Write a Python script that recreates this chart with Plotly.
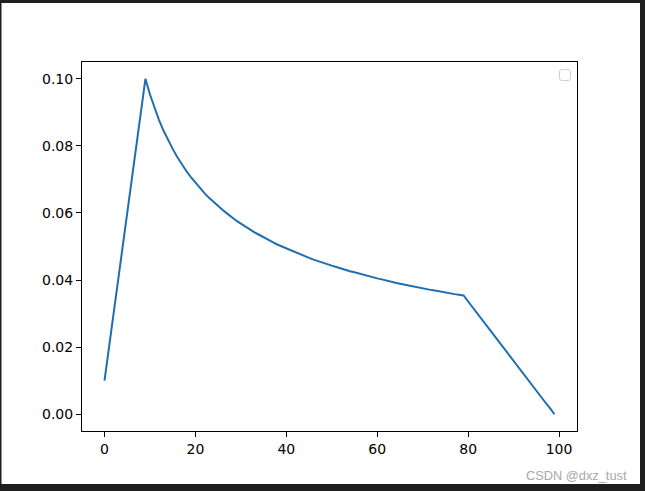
import plotly.graph_objects as go

epochs = list(range(100))
lr = [
    0.0100, 0.0200, 0.0300, 0.0400, 0.0500, 0.0600, 0.0700, 0.0800, 0.0900, 0.1000,
    0.0953, 0.0913, 0.0877, 0.0845, 0.0816, 0.0791, 0.0767, 0.0745, 0.0725, 0.0707,
    0.0690, 0.0674, 0.0659, 0.0645, 0.0632, 0.0620, 0.0609, 0.0598, 0.0587, 0.0577,
    0.0568, 0.0559, 0.0550, 0.0542, 0.0535, 0.0527, 0.0520, 0.0513, 0.0506, 0.0500,
    0.0494, 0.0488, 0.0482, 0.0477, 0.0471, 0.0466, 0.0461, 0.0456, 0.0452, 0.0447,
    0.0443, 0.0439, 0.0434, 0.0430, 0.0426, 0.0423, 0.0419, 0.0415, 0.0412, 0.0408,
    0.0405, 0.0402, 0.0398, 0.0395, 0.0392, 0.0389, 0.0386, 0.0383, 0.0381, 0.0378,
    0.0375, 0.0373, 0.0370, 0.0368, 0.0365, 0.0363, 0.0360, 0.0358, 0.0356, 0.0354,
    0.0336, 0.0319, 0.0301, 0.0283, 0.0265, 0.0248, 0.0230, 0.0212, 0.0195, 0.0177,
    0.0159, 0.0142, 0.0124, 0.0106, 0.0088, 0.0071, 0.0053, 0.0035, 0.0018, 0.0000,
]
x_ticks = [0, 20, 40, 60, 80, 100]
y_ticks = [0.00, 0.02, 0.04, 0.06, 0.08, 0.10]
y_tick_labels = ["0.00", "0.02", "0.04", "0.06", "0.08", "0.10"]
watermark = "CSDN @dxz_tust"

W, H = 645, 491
ml, mr, mt, mb = 82, 68, 62, 60

fig = go.Figure()
fig.add_trace(go.Scatter(x=epochs, y=lr, mode="lines",
                         line=dict(color="#1f6fb0", width=2), showlegend=False))

axis_common = dict(showgrid=False, zeroline=False, showline=True, linecolor="black",
                   linewidth=1, mirror=True, ticks="outside", ticklen=5, tickwidth=1,
                   tickcolor="black", tickfont=dict(family="DejaVu Sans", size=14, color="black"))
fig.update_xaxes(range=[-4.95, 103.95], tickvals=x_ticks, **axis_common)
fig.update_yaxes(range=[-0.005, 0.105], tickvals=y_ticks, ticktext=y_tick_labels, **axis_common)

pw = W - ml - mr
ph = H - mt - mb
def px(xp):
    return (xp - ml) / pw
def py(yp):
    return (H - mb - yp) / ph

shapes = []
dark = "#1e1e1e"
# dark window frame
shapes.append(dict(type="rect", xref="paper", yref="paper", x0=px(0), x1=px(W), y0=py(0), y1=py(3),
                   fillcolor=dark, line=dict(width=0), layer="above"))
shapes.append(dict(type="rect", xref="paper", yref="paper", x0=px(0), x1=px(W), y0=py(484), y1=py(H),
                   fillcolor=dark, line=dict(width=0), layer="above"))
shapes.append(dict(type="rect", xref="paper", yref="paper", x0=px(0), x1=px(1.5), y0=py(0), y1=py(H),
                   fillcolor=dark, line=dict(width=0), layer="above"))
shapes.append(dict(type="rect", xref="paper", yref="paper", x0=px(640), x1=px(W), y0=py(0), y1=py(H),
                   fillcolor=dark, line=dict(width=0), layer="above"))
# empty legend box (rounded)
lx0, lx1, ly0, ly1, r = 559.5, 570.5, 69.5, 80.5, 2.5
path = (f"M {px(lx0+r)},{py(ly0)} L {px(lx1-r)},{py(ly0)} Q {px(lx1)},{py(ly0)} {px(lx1)},{py(ly0+r)} "
        f"L {px(lx1)},{py(ly1-r)} Q {px(lx1)},{py(ly1)} {px(lx1-r)},{py(ly1)} "
        f"L {px(lx0+r)},{py(ly1)} Q {px(lx0)},{py(ly1)} {px(lx0)},{py(ly1-r)} "
        f"L {px(lx0)},{py(ly0+r)} Q {px(lx0)},{py(ly0)} {px(lx0+r)},{py(ly0)} Z")
shapes.append(dict(type="path", xref="paper", yref="paper", path=path,
                   line=dict(color="#d0d0d0", width=1), fillcolor="white"))

fig.update_layout(
    width=W, height=H,
    margin=dict(l=ml, r=mr, t=mt, b=mb, pad=0),
    paper_bgcolor="white", plot_bgcolor="white",
    shapes=shapes,
    annotations=[dict(text=watermark, xref="paper", yref="paper", x=px(629), y=py(475),
                      xanchor="right", yanchor="middle", showarrow=False,
                      font=dict(family="Liberation Sans", size=12.8, color="#a8a8a8"))],
)

fig.write_html("out.html", config={"displayModeBar": False},
               post_script="document.body.style.margin='0';document.body.style.overflow='hidden';")
